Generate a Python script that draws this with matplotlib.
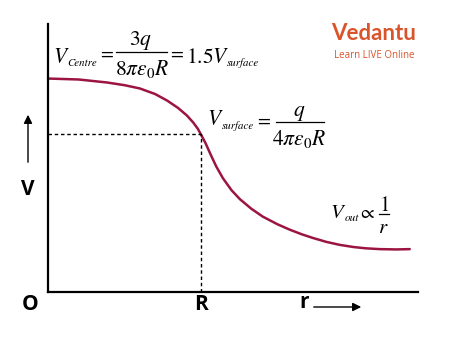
import matplotlib
matplotlib.use("Agg")
import matplotlib.pyplot as plt
from matplotlib.lines import Line2D

plt.rcParams['mathtext.fontset'] = 'stix'

# Potential curve (r in units of R, V in units of V_surface)
r_vals = [0.0, 0.20, 0.386, 0.50, 0.601, 0.70, 0.778, 0.85, 0.908, 0.95, 0.98, 1.0,
          1.03, 1.06, 1.10, 1.144, 1.20, 1.255, 1.33, 1.405, 1.50, 1.582, 1.66,
          1.732, 1.82, 1.908, 2.00, 2.08, 2.17, 2.28, 2.366]
v_vals = [1.354, 1.348, 1.329, 1.312, 1.291, 1.256, 1.215, 1.168, 1.120, 1.075, 1.035, 1.0,
          0.945, 0.880, 0.797, 0.722, 0.646, 0.589, 0.528, 0.478, 0.430, 0.395, 0.366,
          0.343, 0.318, 0.299, 0.285, 0.277, 0.272, 0.270, 0.272]
R_pos = 1.0
V_surf = 1.0
x_max = 2.42
y_max = 1.70

curve_color = '#9B1540'

W, H = 473, 341
fig = plt.figure(figsize=(W / 100, H / 100), dpi=100)
ax = fig.add_axes([48 / W, (H - 292) / H, (418 - 48) / W, (292 - 24) / H])
ax.set_xlim(0, x_max)
ax.set_ylim(0, y_max)
for s in ['top', 'right']:
    ax.spines[s].set_visible(False)
for s in ['left', 'bottom']:
    ax.spines[s].set_linewidth(1.6)
    ax.spines[s].set_color('black')
ax.set_xticks([])
ax.set_yticks([])
ax.patch.set_alpha(0)

ax.plot(r_vals, v_vals, color=curve_color, lw=1.8, solid_capstyle='round',
        solid_joinstyle='round', clip_on=False)
ax.plot([0, R_pos], [V_surf, V_surf], color='black', lw=1.0, ls=(0, (2.5, 2)))
ax.plot([R_pos, R_pos], [0, V_surf], color='black', lw=1.0, ls=(0, (2.5, 2)))


def fx(x):
    return x / W


def fy(y):
    return 1 - y / H


def put(x, y, s, size, ha='left', **kw):
    fig.text(fx(x), fy(y), s, fontsize=size, ha=ha, va='baseline', color='black', **kw)


def sub(x, y, s, size):
    fig.text(fx(x), fy(y), s, fontsize=size, ha='left', va='baseline', color='black',
             family='STIXGeneral', style='italic')


def eq(x, y, s='=', size=13.5):
    fig.text(fx(x), fy(y), s, fontsize=size, ha='left', va='baseline', color='black',
             family='STIXGeneral')


def bar(x0, x1, y):
    fig.add_artist(Line2D([fx(x0), fx(x1)], [fy(y), fy(y)], transform=fig.transFigure,
                          color='black', lw=0.9))


lab = dict(fontsize=15, fontweight='bold', family='Open Sans', color='black',
           ha='center', va='center')
fig.text(fx(30), fy(304), 'O', **lab)
fig.text(fx(201), fy(304), 'R', **lab)
fig.text(fx(304), fy(303), 'r', **lab)
fig.text(fx(28), fy(190), 'V', **lab)

fig.add_artist(matplotlib.patches.FancyArrowPatch(
    (fx(311), fy(307)), (fx(364), fy(307)), transform=fig.transFigure,
    arrowstyle='-|>,head_length=5,head_width=2.5', color='black', lw=1.0))
fig.add_artist(matplotlib.patches.FancyArrowPatch(
    (fx(28), fy(165)), (fx(28), fy(112)), transform=fig.transFigure,
    arrowstyle='-|>,head_length=5,head_width=2.5', color='black', lw=1.0))

# Equation 1: V_Centre = 3q / (8 pi eps0 R) = 1.5 V_surface
put(53, 63, r'$V$', 15.5)
sub(67, 66, 'Centre', 7.8)
eq(100, 60)
bar(116, 167, 52)
put(141, 45, r'$3q$', 15.5, ha='center')
put(142, 75, r'$8\pi\varepsilon_0 R$', 15.5, ha='center')
eq(170, 60)
put(186, 63, r'$1.5V$', 15.5)
sub(227, 66, 'surface', 7.8)

# Equation 2: V_surface = q / (4 pi eps0 R)
put(207, 125, r'$V$', 15.5)
sub(222, 129, 'surface', 7.8)
eq(257, 127)
bar(276, 324, 122)
put(299, 116, r'$q$', 15.5, ha='center')
put(299, 145, r'$4\pi\varepsilon_0 R$', 15.5, ha='center')

# Equation 3: V_out ∝ 1/r
put(330, 218, r'$V$', 15)
sub(345, 221, 'out', 8)
put(358, 218, r'$\propto$', 14)
bar(379, 389, 214)
put(384, 211, r'$1$', 15, ha='center')
put(383, 233, r'$r$', 15, ha='center')

# Logo
logo_color = '#D9542A'
fig.text(fx(374), fy(33), 'Vedantu', fontsize=16, family='Lato', fontweight='bold',
         color=logo_color, ha='center', va='center')
fig.text(fx(374), fy(56), 'Learn LIVE Online', fontsize=7, family='Open Sans',
         color=logo_color, ha='center', va='center')

fig.savefig('out.png', dpi=100)
